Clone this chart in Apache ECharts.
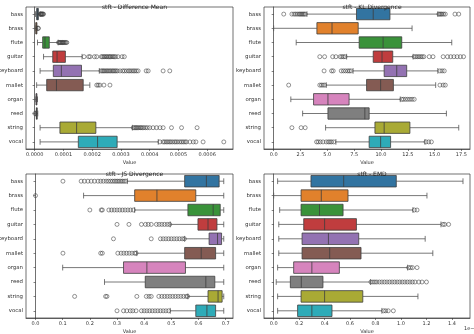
<!DOCTYPE html>
<html>
<head>
<meta charset="utf-8">
<script src="https://cdn.jsdelivr.net/npm/echarts@6/dist/echarts.min.js"></script>
<style>
  html, body { margin: 0; padding: 0; background: #fff; }
  #main { width: 474px; height: 334px; }
</style>
</head>
<body>
<div id="main"></div>
<script>
const instruments = ['bass', 'brass', 'flute', 'guitar', 'keyboard', 'mallet', 'organ', 'reed', 'string', 'vocal'];
const palette = ['#3274a1', '#e1812c', '#3a923a', '#c03d3e', '#9372b2', '#845b53', '#d684bd', '#7f7f7f', '#a9aa35', '#2eabb8'];

// boxes: [whisker low, q1, median, q3, whisker high] per instrument
const diffMeanBoxes = [
  [0.000003, 0.000007, 0.00001, 0.000013, 0.000019],
  [0.000002, 0.000004, 0.000006, 0.000008, 0.000011],
  [0.00001, 0.000028, 0.000036, 0.000051, 0.000082],
  [0.000031, 0.000063, 0.000078, 0.000107, 0.000165],
  [0.000019, 0.000065, 0.000093, 0.000163, 0.000225],
  [0.000007, 0.000042, 0.000076, 0.000169, 0.000192],
  [0.000002, 0.000005, 0.000006, 0.000008, 0.00001],
  [0.000003, 0.000006, 0.000007, 0.000009, 0.000011],
  [0.000019, 0.000088, 0.000146, 0.000213, 0.00034],
  [0.000019, 0.000152, 0.000219, 0.000287, 0.00043]
];
const diffMeanOutliers = [
  [0.00002, 0.000021, 0.000023, 0.000024, 0.000026, 0.000027, 0.000029, 0.000031],
  [0.000012, 0.000013],
  [0.000083, 0.000086, 0.000088, 0.000091, 0.000093, 0.000096, 0.000098, 0.0001, 0.000103, 0.000106, 0.000109, 0.000112],
  [0.000172, 0.000188, 0.000193, 0.000208, 0.000216, 0.000232, 0.000236, 0.000241, 0.000244, 0.000249, 0.000252, 0.000257, 0.000261, 0.000264, 0.000269, 0.000273, 0.000277, 0.000282, 0.00029, 0.000304, 0.000312],
  [0.000231, 0.000235, 0.000239, 0.000243, 0.000248, 0.000252, 0.000256, 0.000261, 0.000265, 0.00027, 0.000274, 0.000279, 0.000283, 0.000288, 0.000297, 0.000306, 0.000312, 0.000319, 0.000326, 0.000331, 0.000337, 0.000343, 0.000348, 0.000354, 0.00036, 0.000388, 0.000395, 0.000447, 0.00047],
  [0.000216, 0.000221, 0.000227, 0.000241, 0.000262],
  [],
  [0.000001],
  [0.000343, 0.000347, 0.000351, 0.000354, 0.000358, 0.000362, 0.000367, 0.00037, 0.000375, 0.00038, 0.000386, 0.000392, 0.0004, 0.000412, 0.000424, 0.000436, 0.000447, 0.000476, 0.000511, 0.000565],
  [0.000436, 0.000447, 0.000452, 0.000458, 0.000463, 0.000469, 0.000474, 0.00048, 0.000487, 0.000492, 0.000498, 0.000505, 0.000511, 0.000517, 0.000523, 0.000528, 0.00054, 0.000552, 0.000561, 0.000586, 0.000658]
];

const klBoxes = [
  [3.1, 7.72, 9.28, 10.84, 15.3],
  [0.0, 4.03, 5.44, 7.88, 12.9],
  [2.1, 7.97, 10.2, 11.94, 16.6],
  [6.8, 9.28, 10.1, 11.1, 13.0],
  [7.4, 10.3, 11.47, 12.4, 15.3],
  [4.9, 8.66, 9.97, 11.16, 15.1],
  [1.6, 3.72, 5.06, 7.03, 11.8],
  [2.7, 5.06, 8.5, 8.9, 16.1],
  [4.84, 9.44, 10.3, 12.7, 17.25],
  [5.8, 8.9, 9.97, 10.9, 14.1]
];
const klOutliers = [
  [0.94, 1.7, 1.9, 2.05, 2.2, 2.35, 2.45, 2.55, 2.65, 2.75, 2.85, 2.95, 15.4, 15.5, 15.6, 15.7, 15.85, 16.0, 16.9, 17.25],
  [],
  [],
  [4.3, 4.75, 5.5, 5.8, 6.2, 6.35, 6.5, 6.65, 13.1, 13.25, 13.4, 13.55, 13.7, 13.85, 14.0, 14.5, 14.85, 15.8, 16.2, 16.5, 16.8, 17.1, 17.4, 17.7],
  [4.7, 5.4, 5.55, 6.3, 6.5, 6.7, 6.9, 7.05, 7.2, 15.5, 15.7, 15.9],
  [1.4, 4.3, 4.45, 4.6, 4.75, 15.5, 15.8, 16.0],
  [11.95, 12.1, 12.3, 12.5, 12.7, 12.9, 13.1],
  [],
  [1.7, 2.56, 2.94],
  [4.0, 4.15, 4.35, 4.6, 4.9, 5.1, 5.25, 5.4, 5.6, 14.2, 14.45, 14.7]
];

const jsBoxes = [
  [0.338, 0.549, 0.629, 0.676, 0.693],
  [0.177, 0.365, 0.447, 0.59, 0.693],
  [0.365, 0.561, 0.654, 0.68, 0.693],
  [0.496, 0.598, 0.635, 0.668, 0.693],
  [0.549, 0.639, 0.67, 0.685, 0.693],
  [0.373, 0.549, 0.61, 0.663, 0.693],
  [0.1, 0.324, 0.41, 0.552, 0.693],
  [0.254, 0.404, 0.627, 0.66, 0.693],
  [0.561, 0.635, 0.672, 0.687, 0.693],
  [0.496, 0.59, 0.631, 0.663, 0.693]
];
const jsOutliers = [
  [0.101, 0.168, 0.18, 0.193, 0.205, 0.217, 0.23, 0.24, 0.25, 0.26, 0.268, 0.276, 0.283, 0.29, 0.296, 0.302, 0.308, 0.314, 0.32, 0.326, 0.332],
  [0.0],
  [0.2, 0.242, 0.246, 0.27, 0.28, 0.29, 0.3, 0.31, 0.32, 0.33, 0.34, 0.35, 0.36],
  [0.3, 0.344, 0.39, 0.405, 0.415, 0.426, 0.445, 0.455, 0.465, 0.475, 0.485, 0.494],
  [0.287, 0.426, 0.46, 0.47, 0.48, 0.49, 0.5, 0.51, 0.52, 0.53, 0.54, 0.548],
  [0.101, 0.24, 0.246, 0.303, 0.315, 0.325, 0.335, 0.345, 0.355, 0.365, 0.37],
  [],
  [],
  [0.144, 0.258, 0.263, 0.373, 0.408, 0.418, 0.426, 0.454, 0.465, 0.475, 0.485, 0.495, 0.505, 0.515, 0.525, 0.535, 0.545, 0.555, 0.56],
  [0.3, 0.324, 0.336, 0.349, 0.358, 0.37, 0.39, 0.4, 0.41, 0.42, 0.43, 0.44, 0.45, 0.46, 0.47, 0.48, 0.49]
];

// EMD values in units of 1e-5
const emdBoxes = [
  [0.031, 0.293, 0.55, 0.963, 1.487],
  [0.0, 0.215, 0.374, 0.584, 1.204],
  [0.047, 0.215, 0.36, 0.545, 1.094],
  [0.04, 0.236, 0.40, 0.65, 1.314],
  [0.04, 0.223, 0.43, 0.668, 1.19],
  [0.04, 0.223, 0.44, 0.686, 1.25],
  [0.031, 0.157, 0.30, 0.516, 1.052],
  [0.02, 0.131, 0.217, 0.387, 0.76],
  [0.031, 0.215, 0.40, 0.70, 1.133],
  [0.031, 0.188, 0.30, 0.458, 0.85]
];
const emdOutliers = [
  [], [], [1.105, 1.126], [1.33, 1.343, 1.374], [], [],
  [1.06, 1.075, 1.09, 1.126],
  [0.764, 0.78, 0.795, 0.81, 0.83, 0.85, 0.87, 0.89, 0.91, 0.93, 0.95, 0.97, 0.99, 1.01, 1.03, 1.05, 1.07, 1.09, 1.11, 1.14, 1.165, 1.2],
  [],
  [0.864, 0.88, 0.9, 0.94]
];

const diffMeanTicks = [0, 0.0001, 0.0002, 0.0003, 0.0004, 0.0005, 0.0006];
const klTicks = [0, 2.5, 5, 7.5, 10, 12.5, 15, 17.5];
const jsTicks = [0, 0.1, 0.2, 0.3, 0.4, 0.5, 0.6, 0.7];
const emdTicks = [0, 0.2, 0.4, 0.6, 0.8, 1.0, 1.2, 1.4];

const panels = [
  { title: 'stft - Difference Mean', boxes: diffMeanBoxes, outliers: diffMeanOutliers, ticks: diffMeanTicks, digits: 4,
    min: -0.00003, max: 0.00069, grid: { left: 26, top: 7, width: 207, height: 142 } },
  { title: 'stft - KL Divergence', boxes: klBoxes, outliers: klOutliers, ticks: klTicks, digits: 1,
    min: -0.9, max: 18.3, grid: { left: 264, top: 7, width: 206, height: 142 } },
  { title: 'stft - JS Divergence', boxes: jsBoxes, outliers: jsOutliers, ticks: jsTicks, digits: 1,
    min: -0.035, max: 0.727, grid: { left: 26, top: 174, width: 207, height: 144 } },
  { title: 'stft - EMD', boxes: emdBoxes, outliers: emdOutliers, ticks: emdTicks, digits: 1,
    min: -0.076, max: 1.542, grid: { left: 264, top: 174, width: 206, height: 144 } }
];

const edge = '#3d3d3d';
const font = 'DejaVu Sans';

function renderBox(params, api) {
  const cat = api.value(0);
  const lo = api.coord([api.value(1), cat]);
  const q1 = api.coord([api.value(2), cat]);
  const md = api.coord([api.value(3), cat]);
  const q3 = api.coord([api.value(4), cat]);
  const hi = api.coord([api.value(5), cat]);
  const h = api.size([0, 1])[1] * 0.8;
  const y = lo[1];
  const cap = h * 0.25;
  const ln = { stroke: '#555', lineWidth: 0.8, fill: null };
  return {
    type: 'group',
    children: [
      { type: 'line', shape: { x1: lo[0], y1: y, x2: q1[0], y2: y }, style: ln },
      { type: 'line', shape: { x1: q3[0], y1: y, x2: hi[0], y2: y }, style: ln },
      { type: 'line', shape: { x1: lo[0], y1: y - cap, x2: lo[0], y2: y + cap }, style: ln },
      { type: 'line', shape: { x1: hi[0], y1: y - cap, x2: hi[0], y2: y + cap }, style: ln },
      { type: 'rect', shape: { x: q1[0], y: y - h / 2, width: q3[0] - q1[0], height: h },
        style: { fill: palette[cat], stroke: edge, lineWidth: 0.8 } },
      { type: 'line', shape: { x1: md[0], y1: y - h / 2, x2: md[0], y2: y + h / 2 }, style: { stroke: edge, lineWidth: 0.8 } }
    ]
  };
}

const option = {
  animation: false,
  backgroundColor: '#fff',
  title: [],
  grid: [],
  xAxis: [],
  yAxis: [],
  series: [],
  graphic: [{
    type: 'text', left: 464, top: 326,
    style: { text: '1e\u22125', font: '5px "DejaVu Sans"', fill: '#333' }
  }]
};

panels.forEach((p, i) => {
  option.grid.push(Object.assign({
    show: true, borderColor: '#333', borderWidth: 0.7, backgroundColor: 'transparent',
    containLabel: false, outerBoundsMode: 'none'
  }, p.grid));
  option.title.push({
    text: p.title,
    left: p.grid.left + p.grid.width / 2,
    top: p.grid.top - 7.5,
    textAlign: 'center',
    textStyle: { fontFamily: font, fontSize: 6, fontWeight: 'normal', color: '#222' }
  });
  option.xAxis.push({
    type: 'value', gridIndex: i, min: p.min, max: p.max,
    name: 'Value', nameLocation: 'middle', nameGap: 11,
    nameTextStyle: { fontFamily: font, fontSize: 5, color: '#333' },
    axisLine: { show: true, lineStyle: { color: '#333', width: 0.7 } },
    axisTick: { show: true, length: 2, customValues: p.ticks, lineStyle: { color: '#333', width: 0.6 } },
    axisLabel: { customValues: p.ticks, fontFamily: font, fontSize: 5, color: '#333', margin: 3,
      formatter: v => v.toFixed(p.digits) },
    splitLine: { show: false }
  });
  option.yAxis.push({
    type: 'category', gridIndex: i, data: instruments, inverse: true,
    axisLine: { show: true, lineStyle: { color: '#333', width: 0.7 } },
    axisTick: { show: true, length: 2, alignWithLabel: true, lineStyle: { color: '#333', width: 0.6 } },
    axisLabel: { fontFamily: font, fontSize: 5.4, color: '#333', margin: 3, interval: 0 },
    splitLine: { show: false }
  });
  option.series.push({
    type: 'custom', xAxisIndex: i, yAxisIndex: i, silent: true,
    renderItem: renderBox,
    encode: { x: [1, 2, 3, 4, 5], y: 0 },
    data: p.boxes.map((b, k) => [k].concat(b))
  });
  const pts = [];
  p.outliers.forEach((list, k) => list.forEach(v => pts.push([v, k])));
  option.series.push({
    type: 'scatter', xAxisIndex: i, yAxisIndex: i, silent: true,
    symbol: 'circle', symbolSize: 4,
    itemStyle: { color: 'rgba(255,255,255,0)', borderColor: edge, borderWidth: 0.7 },
    data: pts
  });
});

const chart = echarts.init(document.getElementById('main'));
chart.setOption(option);
</script>
</body>
</html>
